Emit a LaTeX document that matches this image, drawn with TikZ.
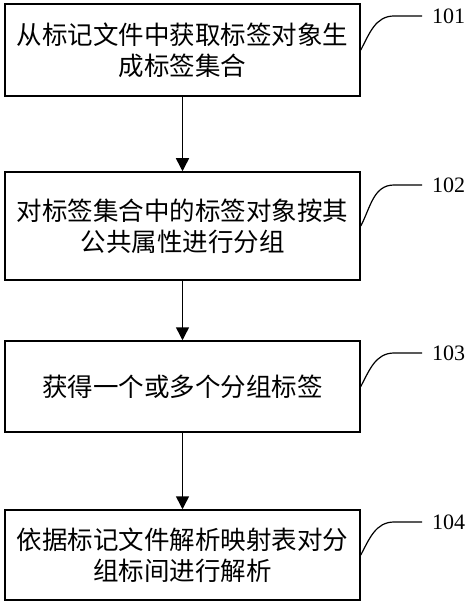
\documentclass[tikz,border=0pt]{standalone}
\usepackage{fontspec}
\setmainfont{Liberation Serif}
\newfontfamily\cjk{Noto Sans CJK SC}
\usetikzlibrary{arrows.meta,positioning,calc}

\begin{document}
\begin{tikzpicture}[x=1pt, y=-1pt,
        stepbox/.style={rectangle, draw, line width=1.5pt, minimum width=355pt, align=center, inner sep=0pt, font=\cjk\fontsize{25.5}{31}\selectfont},
        arrow/.style={-{Triangle[length=13pt,width=13pt]}, line width=1.5pt},
        leader/.style={line width=1.2pt},
        tag/.style={anchor=west, inner xsep=10pt, inner ysep=0pt, font=\fontsize{22}{26}\selectfont}
    ]
        \useasboundingbox (0,0) rectangle (474,609);

        \node[stepbox, minimum height=92pt] (s1) at (182.5,50) {从标记文件中获取标签对象生\\成标签集合};
        \node[stepbox, minimum height=108pt] (s2) at (182.5,226) {对标签集合中的标签对象按其\\公共属性进行分组};
        \node[stepbox, minimum height=91pt] (s3) at (182.5,386.5) {获得一个或多个分组标签};
        \node[stepbox, minimum height=90pt] (s4) at (182.5,555) {依据标记文件解析映射表对分\\组标间进行解析};

        \node[tag] (t1) at (422,16) {101};
        \node[tag] (t2) at (422,185) {102};
        \node[tag] (t3) at (422,353) {103};
        \node[tag] (t4) at (422,522) {104};

        \draw[arrow] (s1) -- (s2);
        \draw[arrow] (s2) -- (s3);
        \draw[arrow] (s3) -- (s4);

        \draw[leader] (s1.east) to[out=62,in=180] ($(t1.west)+(-28,0)$) -- (t1.west);
        \draw[leader] (s2.east) to[out=62,in=180] ($(t2.west)+(-28,0)$) -- (t2.west);
        \draw[leader] (s3.east) to[out=62,in=180] ($(t3.west)+(-28,0)$) -- (t3.west);
        \draw[leader] (s4.east) to[out=62,in=180] ($(t4.west)+(-28,0)$) -- (t4.west);
    \end{tikzpicture}
\end{document}
